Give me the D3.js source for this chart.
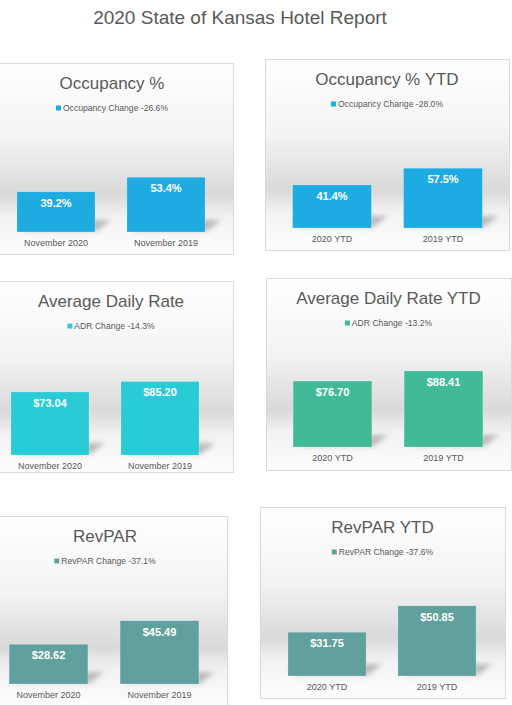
<!DOCTYPE html>
<html>
<head>
<meta charset="utf-8">
<script src="https://cdn.jsdelivr.net/npm/d3@7"></script>
<style>
  html, body { margin: 0; padding: 0; background: #fff; }
  svg { display: block; font-family: 'Liberation Sans', Arial, sans-serif; }
  .tick line, .domain { display: none; }
</style>
</head>
<body>
<svg id="report" width="512" height="705"></svg>
<script>
const reportTitle = '2020 State of Kansas Hotel Report'
const panelTitles = ['Occupancy %', 'Occupancy % YTD', 'Average Daily Rate', 'Average Daily Rate YTD', 'RevPAR', 'RevPAR YTD']
const legendLabels = ['Occupancy Change -26.6%', 'Occupancy Change -28.0%', 'ADR Change -14.3%', 'ADR Change -13.2%', 'RevPAR Change -37.1%', 'RevPAR Change -37.6%']
const monthCategories = ['November 2020', 'November 2019']
const ytdCategories = ['2020 YTD', '2019 YTD']
const occupancyValues = [39.2, 53.4]
const occupancyYtdValues = [41.4, 57.5]
const adrValues = [73.04, 85.20]
const adrYtdValues = [76.70, 88.41]
const revparValues = [28.62, 45.49]
const revparYtdValues = [31.75, 50.85]

const pct = d => `${d.toFixed(1)}%`
const usd = d => `$${d.toFixed(2)}`

const charts = [
  { cats: monthCategories, vals: occupancyValues, fmt: pct, color: '#1eabe2', max: 60 },
  { cats: ytdCategories, vals: occupancyYtdValues, fmt: pct, color: '#1eabe2', max: 60 },
  { cats: monthCategories, vals: adrValues, fmt: usd, color: '#29cbd6', max: 100 },
  { cats: ytdCategories, vals: adrYtdValues, fmt: usd, color: '#41bb97', max: 100 },
  { cats: monthCategories, vals: revparValues, fmt: usd, color: '#60a19d', max: 50 },
  { cats: ytdCategories, vals: revparYtdValues, fmt: usd, color: '#60a19d', max: 50 }
]

// box = panel frame, x = band range, bottom/h = plot baseline and height
const layout = [
  { box: [-9, 63, 242, 191], x: [1, 221], bottom: 232, h: 61.5 },
  { box: [265, 59, 244, 191], x: [276.5, 498.5], bottom: 228, h: 62.4 },
  { box: [-11, 281, 244, 191], x: [-5, 215], bottom: 455, h: 86.3 },
  { box: [266, 278, 245, 192], x: [277, 499], bottom: 447, h: 86 },
  { box: [-17, 516, 244, 192], x: [-7, 215], bottom: 684, h: 69.5 },
  { box: [260, 507, 245, 191], x: [272, 492], bottom: 676, h: 69 }
]

const svg = d3.select('#report')
const defs = svg.append('defs')

const grad = defs.append('linearGradient')
  .attr('id', 'panel-bg')
  .attr('x1', 0).attr('y1', 0).attr('x2', 0).attr('y2', 1)
grad.selectAll('stop')
  .data([[0, '#ffffff'], [0.4, '#f3f3f3'], [0.68, '#d9d9d9'], [0.8, '#f2f2f2'], [1, '#fdfdfd']])
  .enter()
  .append('stop')
  .attr('offset', d => d[0])
  .attr('stop-color', d => d[1])

defs.append('filter')
  .attr('id', 'soft')
  .attr('x', '-20%').attr('y', '-60%').attr('width', '140%').attr('height', '220%')
  .append('feGaussianBlur')
  .attr('stdDeviation', 2.4)

svg.append('text')
  .attr('x', 240)
  .attr('y', 24)
  .attr('text-anchor', 'middle')
  .attr('fill', '#595959')
  .style('font-size', '19px')
  .text(reportTitle)

charts.forEach((c, i) => {
  const lay = layout[i]
  const [bx, by, bw, bh] = lay.box
  const g = svg.append('g').attr('class', `panel panel-${i}`)

  g.append('rect')
    .attr('x', bx + 0.5).attr('y', by + 0.5)
    .attr('width', bw).attr('height', bh)
    .attr('fill', 'url(#panel-bg)')
    .attr('stroke', '#d9d9d9')

  const cx = bx + bw / 2

  g.append('text')
    .attr('x', cx)
    .attr('y', by + 26)
    .attr('text-anchor', 'middle')
    .attr('fill', '#595959')
    .style('font-size', '17px')
    .text(panelTitles[i])

  const legend = g.append('g')
  const legendText = legend.append('text')
    .attr('y', by + 48)
    .attr('fill', '#595959')
    .style('font-size', '8.6px')
    .text(legendLabels[i])
  const tw = legendText.node().getComputedTextLength()
  const lx = cx - (tw + 7) / 2
  legend.append('rect')
    .attr('x', lx).attr('y', by + 42.5)
    .attr('width', 5).attr('height', 5)
    .attr('fill', c.color)
  legendText.attr('x', lx + 7)

  const x = d3.scaleBand()
    .domain(c.cats)
    .range(lay.x)
    .paddingInner(0.29)
    .paddingOuter(0.145)

  const y = d3.scaleLinear()
    .domain([0, c.max])
    .range([lay.bottom, lay.bottom - lay.h])

  const rows = c.cats.map((cat, j) => ({ cat, val: c.vals[j] }))

  // perspective shadow behind each bar
  g.selectAll('.shadow')
    .data(rows)
    .enter()
    .append('polygon')
    .attr('class', 'shadow')
    .attr('points', d => {
      const x0 = x(d.cat)
      const x1 = x0 + x.bandwidth()
      const b = lay.bottom
      return `${x0 + 6},${b - 1} ${x0 + 22},${b - 12} ${x1 + 16},${b - 12} ${x1 + 2},${b - 1}`
    })
    .attr('fill', '#8c8c8c')
    .attr('opacity', 0.55)
    .attr('filter', 'url(#soft)')

  g.selectAll('.bar')
    .data(rows)
    .enter()
    .append('rect')
    .attr('class', 'bar')
    .attr('x', d => x(d.cat))
    .attr('y', d => y(d.val))
    .attr('width', x.bandwidth())
    .attr('height', d => y(0) - y(d.val))
    .attr('fill', c.color)
    .attr('stroke', 'rgba(255,255,255,0.35)')
    .attr('stroke-width', 0.6)

  g.selectAll('.value')
    .data(rows)
    .enter()
    .append('text')
    .attr('class', 'value')
    .attr('x', d => x(d.cat) + x.bandwidth() / 2)
    .attr('y', d => y(d.val) + 15)
    .attr('text-anchor', 'middle')
    .attr('fill', '#fff')
    .style('font-size', '11px')
    .style('font-weight', 'bold')
    .text(d => c.fmt(d.val))

  g.append('g')
    .attr('transform', `translate(0,${lay.bottom})`)
    .call(d3.axisBottom(x).tickSize(0).tickPadding(7.5))
    .call(ax => ax.selectAll('text')
      .attr('fill', '#595959')
      .style('font-size', '9px')
      .style('font-family', "'Liberation Sans', Arial, sans-serif"))
})
</script>
</body>
</html>
